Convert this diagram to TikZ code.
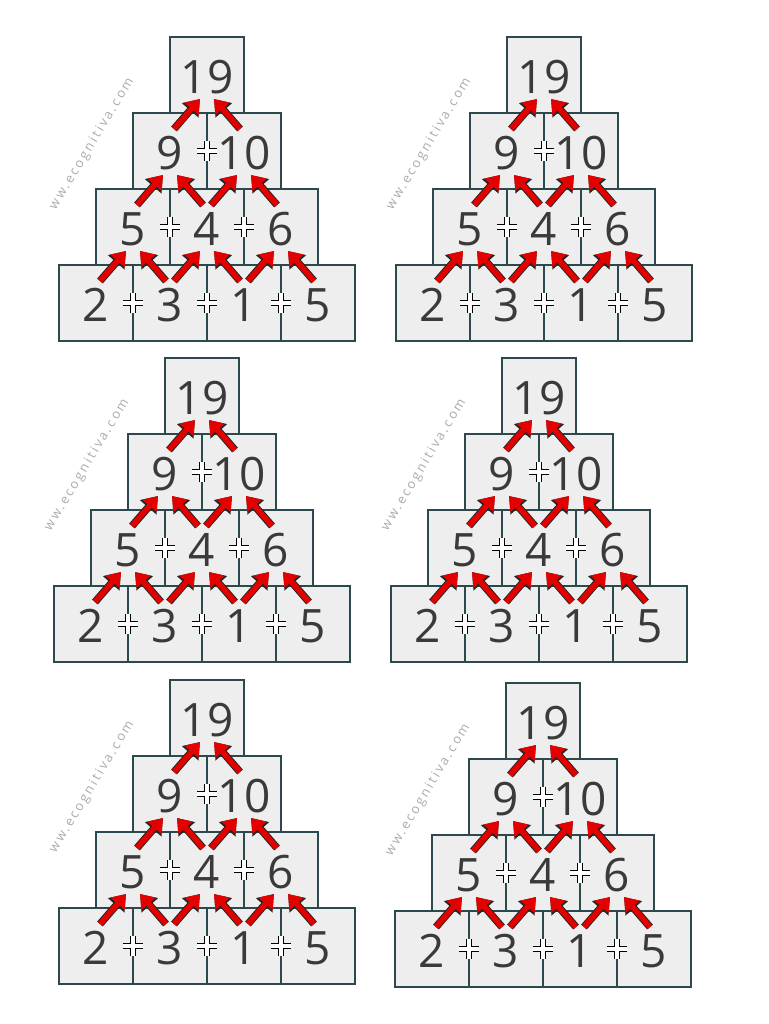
\documentclass[tikz,border=0pt]{standalone}
\usepackage{fontspec}
\setmainfont{Open Sans}
\usetikzlibrary{arrows.meta}
\definecolor{cellfill}{HTML}{EEEEEE}
\definecolor{celledge}{HTML}{2C4A4E}
\definecolor{numcol}{HTML}{3A3A3A}
\tikzset{
  cell/.style={draw=celledge,line width=2.4pt,fill=cellfill},
  num/.style={text=numcol,font=\fontsize{46}{46}\selectfont},
  redarrow/.style={draw=red!90!black,line width=5.5pt,-{Triangle[length=13pt,width=18pt]},
    preaction={draw=black!85,line width=7.5pt,-{Triangle[length=15pt,width=21pt]}}},
  plusline/.style={draw=white,line width=3.2pt,preaction={draw=black,line width=5.2pt}},
  wm/.style={text=gray!65,font=\fontsize{13}{13}\selectfont\addfontfeature{LetterSpace=18},rotate=59},
  pyramid/.pic={
    \foreach \r/\vals in {0/{19},1/{9,10},2/{5,4,6},3/{2,3,1,5}}{
      \foreach \v [count=\i from 0] in \vals {
        \path[cell] ({-37*\r+74*\i},{76*\r}) rectangle ++(74,76);
        \node[num] (-n\r\i) at ({-37*\r+74*\i+37},{76*\r+40}) {\v};
      }
    }
    \foreach \r in {0,1,2}{
      \foreach \i in {0,...,\r}{
        \coordinate (-la\r\i) at ({-37*\r+74*\i+37-33},{76*(\r+1)+16});
        \coordinate (-lb\r\i) at ({-37*\r+74*\i+37-7},{76*(\r+1)-14});
        \coordinate (-ra\r\i) at ({-37*\r+74*\i+37+33},{76*(\r+1)+16});
        \coordinate (-rb\r\i) at ({-37*\r+74*\i+37+7},{76*(\r+1)-14});
        \draw[redarrow] (-la\r\i) -- (-lb\r\i);
        \draw[redarrow] (-ra\r\i) -- (-rb\r\i);
      }
    }
    \foreach \r in {1,2,3}{
      \foreach \j in {1,...,\r}{
        \coordinate (-p\r\j) at ({-37*\r+74*\j},{76*\r+38});
        \path[plusline] ([xshift=-10pt]-p\r\j) -- ([xshift=10pt]-p\r\j);
        \path[plusline] ([yshift=-10pt]-p\r\j) -- ([yshift=10pt]-p\r\j);
        \path[draw=white,line width=3.2pt] ([xshift=-9pt]-p\r\j) -- ([xshift=9pt]-p\r\j);
      }
    }
    \node[wm] (-wm) at (-78,107) {ww.ecognitiva.com};
  }
}
\begin{document}
\begin{tikzpicture}[x=1pt,y=-1pt]
\fill[white] (0,0) rectangle (768,1024);
\useasboundingbox (0,0) rectangle (768,1024);
\pic (a) at (170,37) {pyramid};
\pic (b) at (507,37) {pyramid};
\pic (c) at (165,358) {pyramid};
\pic (d) at (502,358) {pyramid};
\pic (e) at (170,680) {pyramid};
\pic (f) at (506,683) {pyramid};
\end{tikzpicture}
\end{document}
